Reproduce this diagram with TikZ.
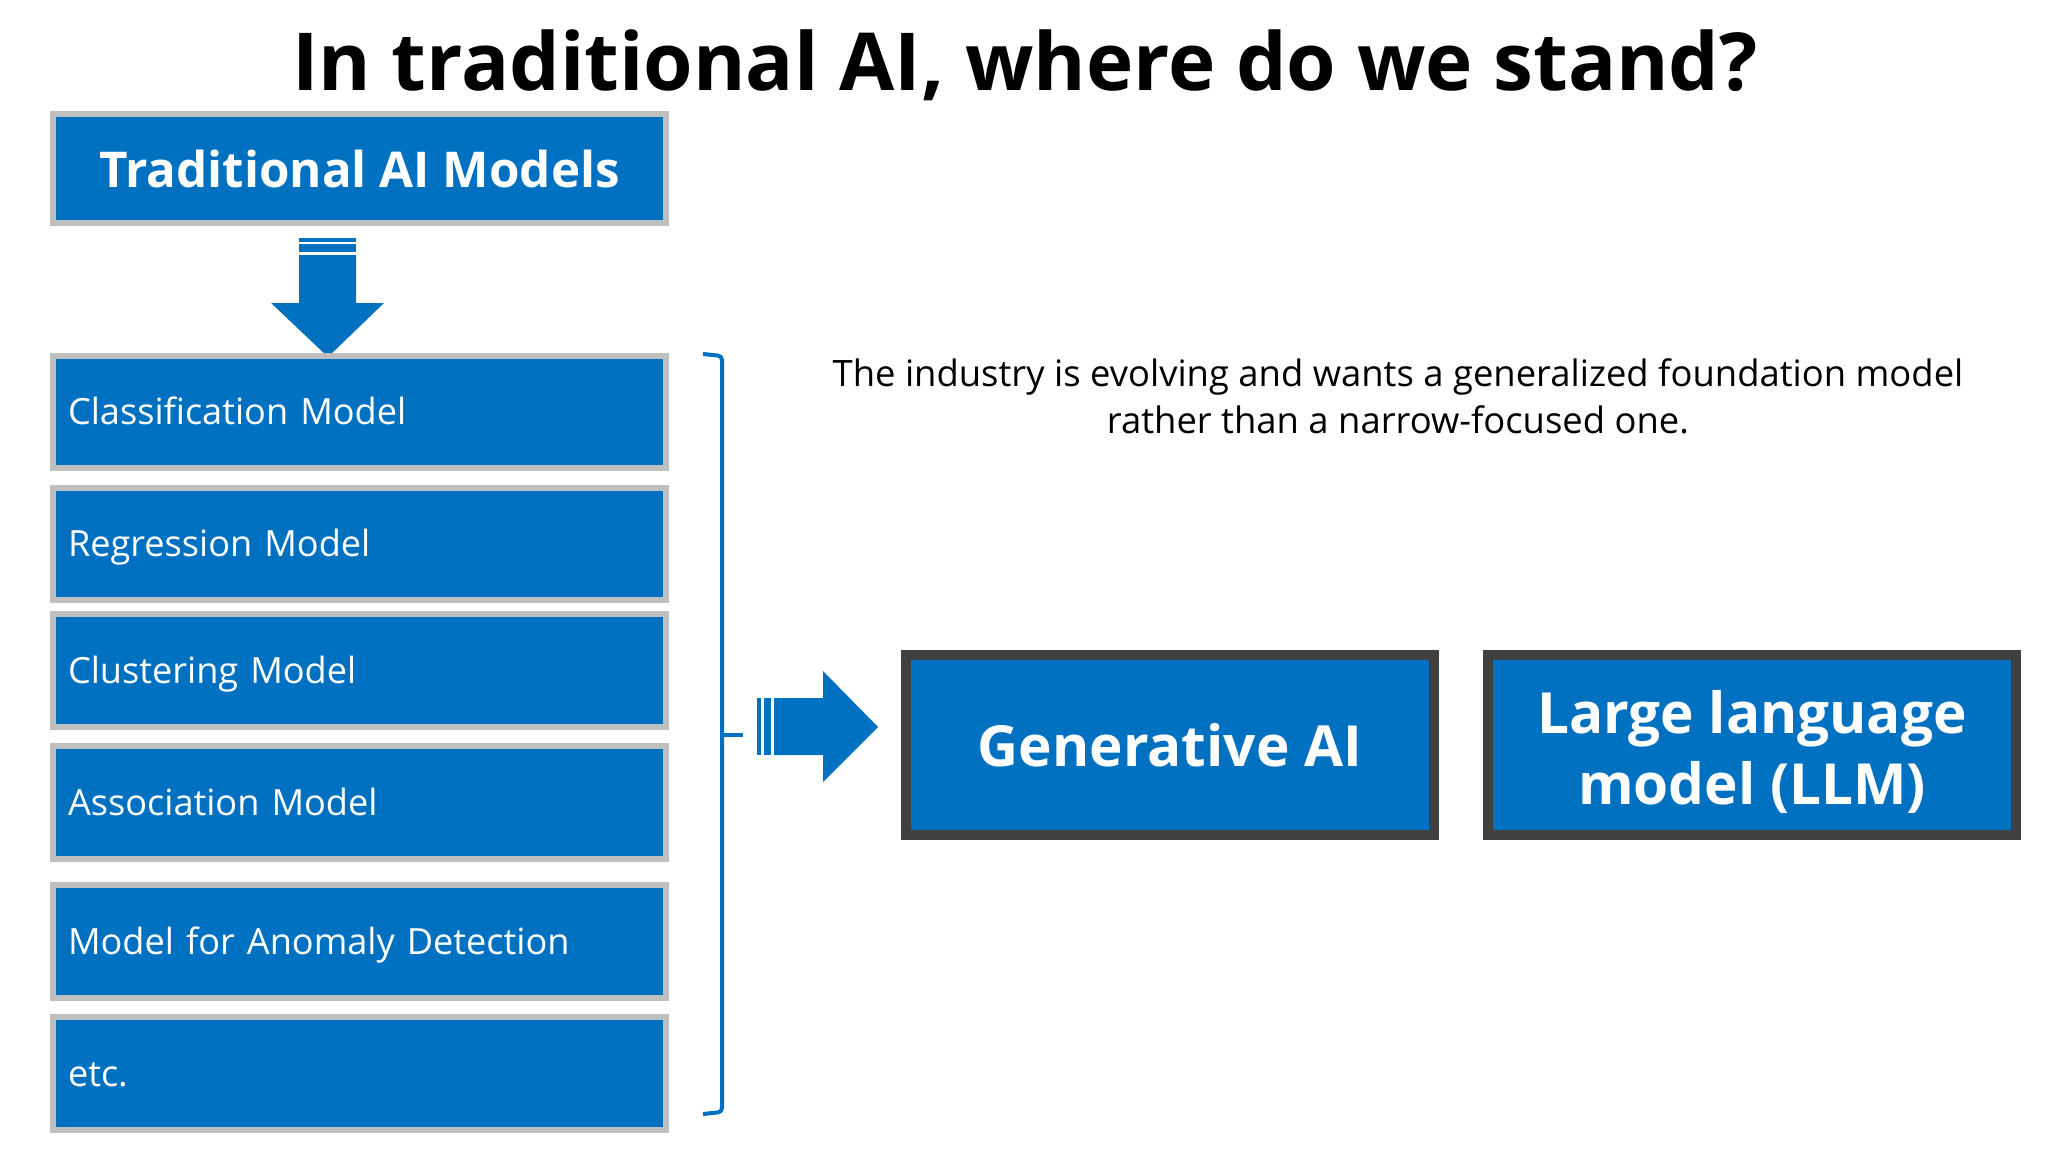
\documentclass[tikz,border=0pt]{standalone}
\usepackage{fontspec}
\setmainfont{Open Sans}

\definecolor{boxblue}{RGB}{0,112,192}
\definecolor{boxgray}{RGB}{191,191,191}
\definecolor{boxdark}{RGB}{64,64,64}

\tikzset{every picture/.style={line width=0.75pt}}
\tikzset{
  modelbox/.style={draw=boxgray, fill=boxblue, line width=4.5pt, minimum width=459.75pt, minimum height=81.75pt, inner sep=0pt, text=white},
  listbox/.style={modelbox, minimum height=84.4pt, text width=437.25pt, inner xsep=11.25pt, align=left, text height=19.4pt, text depth=0pt, font=\fontsize{27.1}{33}\selectfont},
  bigbox/.style={draw=boxdark, fill=boxblue, line width=7.5pt, minimum width=396pt, minimum height=135pt, inner sep=0pt},
  bigtext/.style={text=white, align=center, inner sep=0pt, font=\fontsize{42.5}{53}\selectfont\bfseries},
  blockarrow/.style={fill=boxblue, draw=none},
  bracket/.style={draw=boxblue, line width=3pt, rounded corners=3pt}
}

\begin{document}
\begin{tikzpicture}[x=0.75pt,y=0.75pt,yscale=-1,xscale=1]
\path[use as bounding box] (0,0) rectangle (2048,1152);

% Text Node
\node (title) [anchor=base, font=\fontsize{60}{72}\selectfont\bfseries] at (1025,91) {In traditional AI, where do we stand?};

%Shape: Rectangle [id:trad]
\node (trad) [modelbox, font=\fontsize{37}{44}\selectfont\bfseries] at (359.5,168.5) {Traditional AI Models};

%Shape: Down Arrow [id:downarrow]
\fill[blockarrow] (299,238) rectangle (356,242);
\fill[blockarrow] (299,244) rectangle (356,252);
\fill[blockarrow] (299,255) -- (356,255) -- (356,303) -- (384,303) -- (328,357) -- (271,303) -- (299,303) -- cycle;

%Shape: Rectangle [id:list]
\node (cls) [listbox] at (359.5,411.9) {Classification Model};
\node (reg) [listbox] at (359.5,543.8) {Regression Model};
\node (clu) [listbox] at (359.5,670.4) {Clustering Model};
\node (asc) [listbox] at (359.5,802.6) {Association Model};
\node (anom) [listbox] at (359.5,941.7) {Model for Anomaly Detection};
\node (etc) [listbox] at (359.5,1073.5) {etc.};

%Shape: Right Bracket [id:bracket]
\draw[bracket] (703,354) -- (722,356) -- (722,1112) -- (703,1114);
\draw[bracket] (722,735) -- (743,735);

%Shape: Right Arrow [id:rightarrow]
\fill[blockarrow] (757,698) rectangle (761,755);
\fill[blockarrow] (764,698) rectangle (771,755);
\fill[blockarrow] (774,698) -- (823,698) -- (823,671) -- (878,727) -- (823,782) -- (823,755) -- (774,755) -- cycle;

% Text Node
\node (note) [align=center, font=\fontsize{27.3}{35}\selectfont] at (1398,396) {The industry is evolving and wants a generalized foundation model\\rather than a narrow-focused one.};

%Shape: Rectangle [id:genai]
\node (genai) [bigbox] at (1170,745) {};
\node (genaitext) [bigtext] at (1170,745) {Generative AI};
%Shape: Rectangle [id:llm]
\node (llm) [bigbox] at (1752,745) {};
\node (llmtext) [bigtext] at (1752,752) {Large language\\model (LLM)};

\end{tikzpicture}
\end{document}
